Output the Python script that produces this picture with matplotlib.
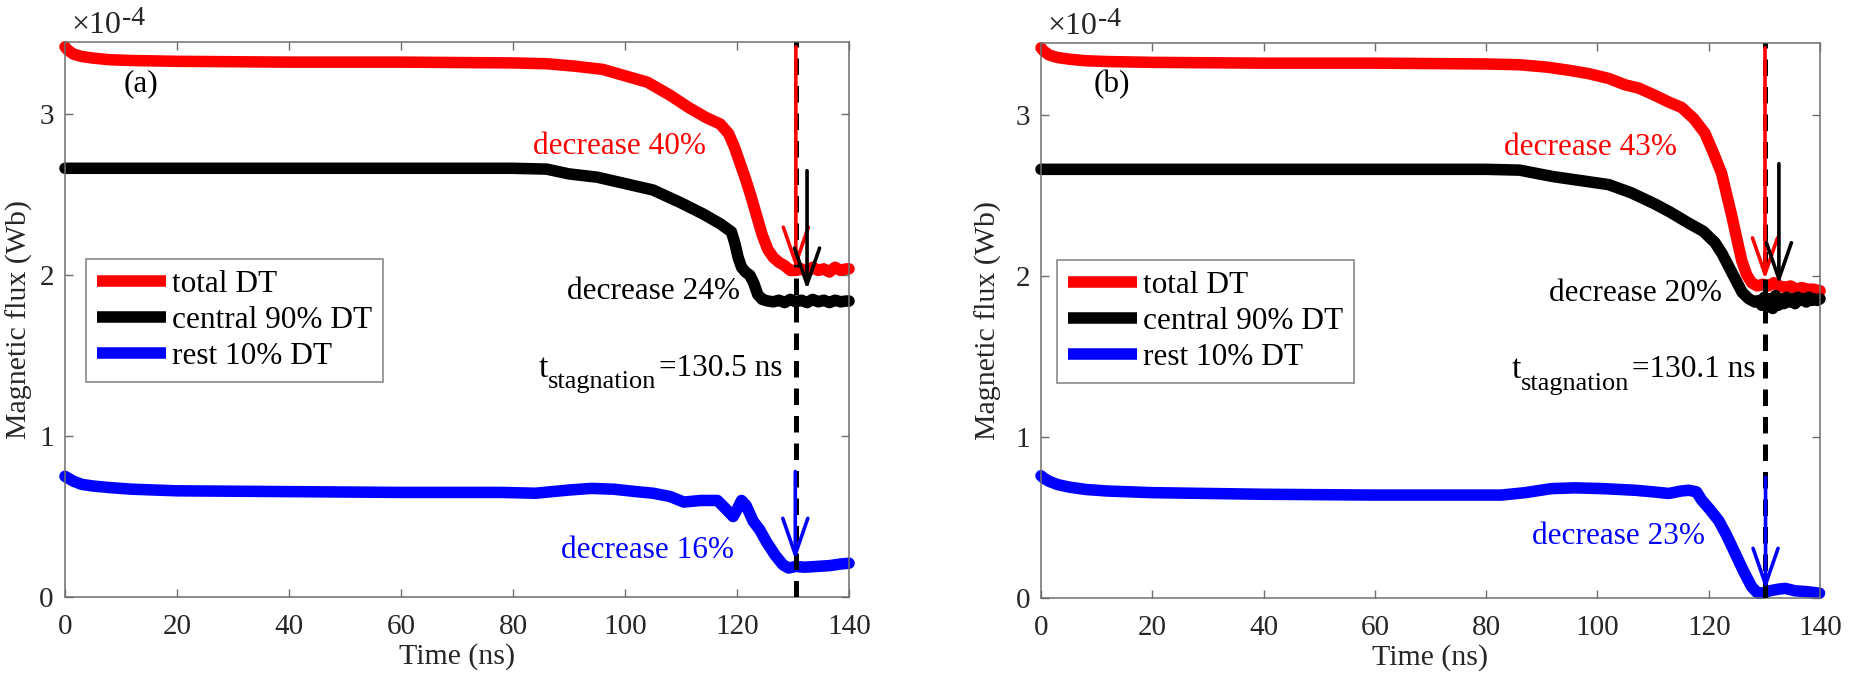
import matplotlib.pyplot as plt

plt.rcParams['font.family'] = ['Liberation Serif', 'DejaVu Serif']
plt.rcParams['mathtext.fontset'] = 'custom'
plt.rcParams['mathtext.rm'] = 'Liberation Serif'

# magnetic flux in units of 1e-4 Wb, time in ns

# ---- panel (a)
t_red_a = [0, 0.5, 1.5, 3, 5, 8, 12, 20, 40, 60, 80, 86, 91, 96, 100, 104, 108,
           111.5, 114.5, 117, 118.5, 119.5, 120.5, 121.5, 122.5, 123.5, 124.5,
           125.5, 126.5, 127.5, 128.5, 129.5, 130.5, 131.5, 132.5, 133.5, 134.5,
           135.5, 136.5, 137.5, 138.5, 139.5, 140]
flux_red_a = [3.42, 3.40, 3.375, 3.36, 3.35, 3.34, 3.335, 3.33, 3.325, 3.325, 3.32,
              3.315, 3.30, 3.28, 3.24, 3.20, 3.12, 3.04, 2.98, 2.94, 2.88, 2.80,
              2.70, 2.60, 2.49, 2.37, 2.25, 2.16, 2.11, 2.08, 2.06, 2.03, 2.03,
              2.04, 2.02, 2.05, 2.03, 2.04, 2.02, 2.05, 2.03, 2.04, 2.04]

t_blk_a = [0, 20, 40, 60, 80, 86, 90, 95, 100, 105, 110, 114, 117, 119, 119.6,
           120.2, 120.8, 121.5, 122.3, 123, 123.7, 124.5, 125.5, 126.5, 127.5,
           128.5, 129.5, 130.5, 131.5, 132.5, 133.5, 134.5, 135.5, 136.5, 137.5,
           138.5, 139.5, 140]
flux_blk_a = [2.665, 2.665, 2.665, 2.665, 2.665, 2.66, 2.63, 2.61, 2.57, 2.53,
              2.45, 2.38, 2.32, 2.27, 2.20, 2.11, 2.05, 2.02, 2.00, 1.95, 1.88,
              1.85, 1.84, 1.835, 1.845, 1.83, 1.85, 1.835, 1.845, 1.83, 1.85,
              1.835, 1.845, 1.83, 1.845, 1.835, 1.84, 1.84]

t_blu_a = [0, 0.5, 1.5, 3, 5, 8, 12, 20, 40, 60, 78, 84, 90, 94, 98, 102, 105,
           108, 110.5, 113.5, 116.5, 118.2, 119.3, 120.1, 120.8, 121.6, 122.9,
           124, 125.3, 126.8, 128.2, 129.2, 130.5, 132, 134.3, 136.5, 138.5, 140]
flux_blu_a = [0.75, 0.74, 0.72, 0.70, 0.69, 0.68, 0.67, 0.66, 0.655, 0.65, 0.65,
              0.645, 0.665, 0.675, 0.67, 0.655, 0.645, 0.625, 0.59, 0.60, 0.60,
              0.54, 0.50, 0.55, 0.60, 0.57, 0.47, 0.42, 0.34, 0.26, 0.20, 0.18,
              0.19, 0.185, 0.19, 0.195, 0.205, 0.21]

# ---- panel (b)
t_red_b = [0, 0.5, 1.5, 3, 5, 8, 12, 20, 40, 60, 80, 86, 91, 95, 98.4, 102, 105,
           107.4, 110, 113, 115.1, 117.3, 119.3, 120.8, 122.3, 123.2, 124.1, 125,
           125.9, 126.8, 127.7, 128.7, 129.7, 130.7, 131.7, 132.7, 133.7, 134.7,
           135.7, 136.7, 137.7, 138.7, 140]
flux_red_b = [3.42, 3.40, 3.375, 3.36, 3.35, 3.34, 3.335, 3.33, 3.325, 3.325, 3.32,
              3.315, 3.30, 3.28, 3.26, 3.23, 3.19, 3.17, 3.13, 3.08, 3.05, 2.98,
              2.89, 2.77, 2.64, 2.51, 2.38, 2.24, 2.10, 2.01, 1.96, 1.94, 1.95,
              1.94, 1.96, 1.94, 1.93, 1.94, 1.92, 1.93, 1.92, 1.92, 1.91]

t_blk_b = [0, 20, 40, 60, 80, 86, 92, 98, 102, 106, 110.3, 113, 116.4, 119, 121.1,
           122.4, 123.6, 124.8, 126, 127.2, 128.3, 129, 129.5, 130, 130.5, 131,
           131.5, 132, 132.5, 133, 133.5, 134, 134.5, 135, 135.5, 136, 136.5, 137,
           137.5, 138, 138.5, 139, 139.5, 140]
flux_blk_b = [2.665, 2.665, 2.665, 2.665, 2.665, 2.66, 2.62, 2.59, 2.57, 2.52,
              2.45, 2.40, 2.33, 2.28, 2.21, 2.14, 2.06, 1.98, 1.90, 1.86, 1.84,
              1.85, 1.82, 1.87, 1.81, 1.86, 1.80, 1.88, 1.82, 1.86, 1.83, 1.87,
              1.84, 1.86, 1.83, 1.87, 1.85, 1.86, 1.84, 1.87, 1.85, 1.86, 1.85,
              1.86]

t_blu_b = [0, 0.5, 1.5, 3, 5, 8, 12, 20, 40, 60, 82.7, 87, 91.7, 96, 101, 106.7,
           110, 112.8, 115, 116.4, 117.8, 118.7, 120.2, 121.8, 123.2, 124.7, 126.2,
           127.7, 128.8, 129.5, 131, 132.5, 133.7, 135.5, 137.5, 139.9]
flux_blu_b = [0.76, 0.745, 0.725, 0.705, 0.69, 0.675, 0.665, 0.655, 0.645, 0.64,
              0.64, 0.655, 0.68, 0.685, 0.68, 0.67, 0.66, 0.65, 0.665, 0.67, 0.66,
              0.61, 0.55, 0.48, 0.39, 0.28, 0.17, 0.07, 0.03, 0.03, 0.045, 0.055,
              0.06, 0.045, 0.04, 0.03]

labels = ['total DT', 'central 90% DT', 'rest 10% DT']
colors = ['#ff0000', '#000000', '#0000ff']
xticks = [0, 20, 40, 60, 80, 100, 120, 140]
yticks = [0, 1, 2, 3]

t_stag = [130.5, 130.1]
decrease_a = ['decrease 40%', 'decrease 24%', 'decrease 16%']
decrease_b = ['decrease 43%', 'decrease 20%', 'decrease 23%']
# arrows: (x, y_start, y_tip) for red, black, blue
arrows_a = [(130.5, 3.42, 2.04), (132.5, 2.65, 1.91), (130.4, 0.78, 0.23)]
arrows_b = [(130.1, 3.42, 1.98), (132.6, 2.70, 1.95), (130.2, 0.75, 0.05)]

LW = 8.3
AX_COL = '#6e6e6e'


def draw_panel(ax, series, tag, tstag, words, arrows, text_pos, leg_anchor):
    for (t, f), lab, c in zip(series, labels, colors):
        ax.plot(t, f, color=c, lw=LW, label=lab, solid_capstyle='round',
                solid_joinstyle='round', clip_on=False, zorder=2)

    ax.axvline(tstag, color='black', lw=3.6, dashes=(3.3, 2.2), zorder=3)

    for (x, y0, y1), c in zip(arrows, colors):
        ax.annotate('', xy=(x, y1), xytext=(x, y0),
                    arrowprops=dict(arrowstyle='->,head_length=1.3,head_width=0.45',
                                    color=c, lw=2.6, shrinkA=0, shrinkB=0,
                                    mutation_scale=20), zorder=4)

    # decrease labels
    (x0, y0, ha0), (x1, y1, ha1), (x2, y2, ha2) = text_pos
    ax.text(x0, y0, words[0], color=colors[0], fontsize=22.5, ha=ha0, va='center')
    ax.text(x1, y1, words[1], color=colors[1], fontsize=22.5, ha=ha1, va='center')
    ax.text(x2, y2, words[2], color=colors[2], fontsize=22.5, ha=ha2, va='center')

    # t_stagnation label
    t1 = ax.text(84.5, 1.37, 't', fontsize=24, va='baseline')
    t2 = ax.annotate('stagnation', xy=(1, 0), xycoords=t1, xytext=(0.5, -3.5),
                     textcoords='offset points', fontsize=19, va='baseline')
    ax.annotate('=%.1f ns' % tstag, xy=(1, 0), xycoords=t2, xytext=(2, 12.5),
                textcoords='offset points', fontsize=22.5, va='baseline')

    ax.text(tag[1], 3.19, tag[0], fontsize=22.5, ha='left', va='center')

    # axis multiplier, MATLAB style
    m1 = ax.text(0.0077, 1.016, '\u00d710', transform=ax.transAxes, fontsize=23,
                 va='baseline', color='#262626')
    ax.annotate('-4', xy=(1, 0), xycoords=m1, xytext=(0.5, 11),
                textcoords='offset points', fontsize=20, va='baseline',
                color='#262626')

    ax.set_xlim(0, 140)
    ax.set_ylim(0, 3.45)
    ax.set_xticks(xticks)
    ax.set_yticks(yticks)
    ax.tick_params(direction='in', top=True, right=True, length=6, width=1,
                   color=AX_COL, labelsize=21, labelcolor='#262626')
    ax.tick_params(axis='x', pad=12)
    ax.tick_params(axis='y', pad=8)
    for sp in ax.spines.values():
        sp.set_color(AX_COL)
        sp.set_linewidth(1.1)

    ax.set_xlabel('Time (ns)', fontsize=21.5, color='#262626')
    ax.set_ylabel('Magnetic flux (Wb)', fontsize=21.5, color='#262626')
    ax.xaxis.set_label_coords(0.5, -0.083)

    leg = ax.legend(loc='upper left', bbox_to_anchor=leg_anchor, borderaxespad=0,
                    fontsize=22.5, handlelength=2.2, handletextpad=0.2,
                    labelspacing=0.22, borderpad=0.35, fancybox=False,
                    framealpha=1, edgecolor='#7f7f7f')
    leg.get_frame().set_linewidth(1.1)
    for h in leg.get_lines():
        h.set_solid_capstyle('butt')
    return ax


fig = plt.figure(figsize=(18.51, 6.90), dpi=100)
ax_a = fig.add_axes([0.0351, 0.1348, 0.4236, 0.8043])
ax_b = fig.add_axes([0.5624, 0.1333, 0.4209, 0.8043])

draw_panel(ax_a, [(t_red_a, flux_red_a), (t_blk_a, flux_blk_a), (t_blu_a, flux_blu_a)],
           ('(a)', 10.4), t_stag[0], decrease_a, arrows_a,
           [(99, 2.80, 'center'), (120.5, 1.90, 'right'), (104, 0.29, 'center')],
           (0.027, 0.609))
ax_a.yaxis.set_label_coords(-0.041, 0.5)

draw_panel(ax_b, [(t_red_b, flux_red_b), (t_blk_b, flux_blk_b), (t_blu_b, flux_blu_b)],
           ('(b)', 9.4), t_stag[1], decrease_b, arrows_b,
           [(98.8, 2.80, 'center'), (122.3, 1.89, 'right'), (103.8, 0.38, 'center')],
           (0.021, 0.609))
ax_b.yaxis.set_label_coords(-0.050, 0.5)

fig.savefig('out.png', dpi=100)
